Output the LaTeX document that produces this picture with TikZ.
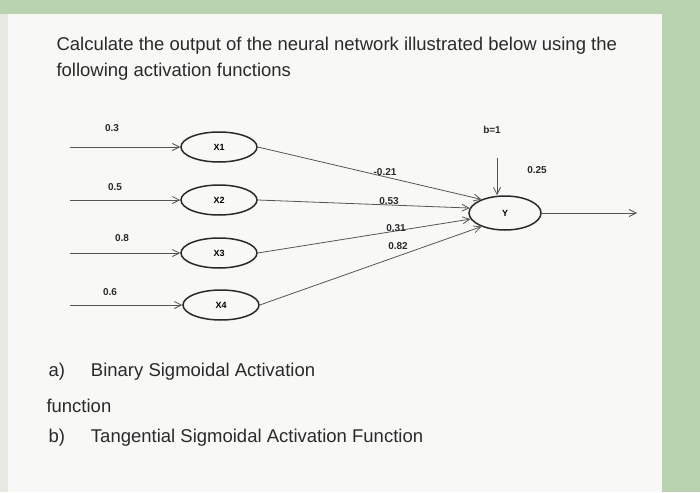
\documentclass[tikz,border=0pt]{standalone}
\usepackage{fontspec}
\setmainfont{Liberation Sans}
\usetikzlibrary{arrows.meta,shapes.geometric}
\definecolor{bg}{HTML}{E6E8E2}
\definecolor{grn}{HTML}{B9D3B0}
\definecolor{ink}{HTML}{2A2A2A}
\begin{document}
\begin{tikzpicture}[x=1pt,y=-1pt,
  neuron/.style={draw=ink,line width=1.5pt,ellipse,minimum width=76pt,minimum height=30pt,font=\fontsize{9}{10}\selectfont\bfseries,inner sep=0pt},
  lab/.style={font=\fontsize{10}{11}\selectfont\bfseries,text=ink},
  con/.style={draw=ink!80,line width=0.8pt,-{Straight Barb[length=7pt,width=7pt]}},
  txt/.style={font=\fontsize{18.5}{20}\selectfont,text=ink,anchor=west}]
\useasboundingbox (0,0) rectangle (700,492);
\fill[bg] (0,0) rectangle (700,492);
\fill[grn] (0,0) rectangle (700,14);
\fill[grn] (662,0) rectangle (700,492);
\fill[white!70!bg] (8,14) rectangle (662,492);
\node[txt] (t1) at (53,46) {Calculate the output of the neural network illustrated below using the};
\node[txt] (t2) at (53,72) {following activation functions};
\node[neuron] (x1) at (219,147) {X1};
\node[neuron] (x2) at (219,200) {X2};
\node[neuron] (x3) at (219,253) {X3};
\node[neuron] (x4) at (221,305) {X4};
\node[neuron,minimum width=72pt,minimum height=34pt] (y) at (505,213) {Y};
\foreach \n/\yy/\v/\lx/\ly in {x1/147/0.3/112/128,x2/200/0.5/115/187,x3/253/0.8/122/238,x4/305/0.6/110/292}{
  \coordinate (s\n) at (70,\yy);
  \draw[con] (s\n) -- (\n.west);
  \node[lab] at (\lx,\ly) {\v};
}
\draw[con] (x1.east) -- (y.150);
\draw[con] (x2.east) -- (y.172);
\draw[con] (x3.east) -- (y.190);
\draw[con] (x4.east) -- (y.210);
\node[lab] at (385,172) {-0.21};
\node[lab] at (389,201) {0.53};
\node[lab] at (396,228) {0.31};
\node[lab] at (398,246) {0.82};
\coordinate (b) at (497,158);
\draw[con] (b) -- (y.north -| b);
\node[lab] at (492,130) {b=1};
\node[lab] at (537,170) {0.25};
\coordinate (o) at (637,213);
\draw[con] (y.east) -- (o);
\node[txt] (a) at (45,372) {a)\hspace{26pt}Binary Sigmoidal Activation};
\node[txt] (f) at (43,406) {function};
\node[txt] (bb) at (45,438) {b)\hspace{26pt}Tangential Sigmoidal Activation Function};
\end{tikzpicture}
\end{document}
